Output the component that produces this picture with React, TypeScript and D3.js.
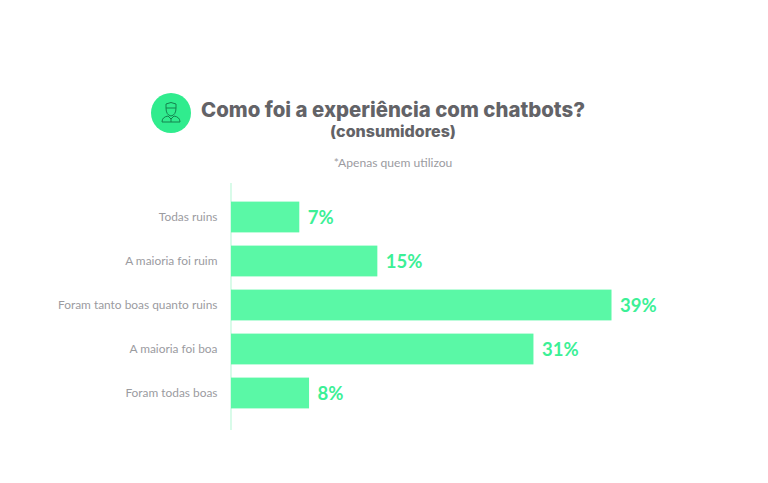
import { useEffect, useRef } from 'react';
import * as d3 from 'd3';

const categories = ['Todas ruins', 'A maioria foi ruim', 'Foram tanto boas quanto ruins', 'A maioria foi boa', 'Foram todas boas'];
const values = [7, 15, 39, 31, 8];

const width = 768;
const height = 483;

const App = () => {
  const svgRef = useRef<SVGSVGElement>(null);

  useEffect(() => {
    if (!svgRef.current) return;
    d3.select(svgRef.current).selectAll('*').remove();
    const svg = d3.select(svgRef.current);

    const xScale = d3.scaleLinear().domain([0, 39]).range([231, 611.5]);
    const yScale = d3.scaleBand().domain(categories).range([195, 415]).paddingInner(0.3).paddingOuter(0.15);

    svg.append('line')
      .attr('x1', 231).attr('x2', 231)
      .attr('y1', 183).attr('y2', 430)
      .attr('stroke', '#bff8da')
      .attr('stroke-width', 1.2);

    svg.selectAll('.bar')
      .data(values)
      .enter()
      .append('rect')
      .attr('x', xScale(0))
      .attr('y', (_, i) => yScale(categories[i]) as number)
      .attr('width', d => xScale(d) - xScale(0))
      .attr('height', yScale.bandwidth())
      .attr('fill', '#5af8a6');

    svg.selectAll('.label')
      .data(categories)
      .enter()
      .append('text')
      .attr('x', 217.5)
      .attr('y', d => (yScale(d) as number) + yScale.bandwidth() / 2 + 4)
      .attr('text-anchor', 'end')
      .style('font-family', 'Lato, sans-serif')
      .style('font-size', '11.9px')
      .style('fill', '#9b9b9f')
      .text(d => d);

    svg.selectAll('.value')
      .data(values)
      .enter()
      .append('text')
      .attr('x', d => xScale(d) + 8.5)
      .attr('y', (_, i) => (yScale(categories[i]) as number) + yScale.bandwidth() / 2 + 6.5)
      .style('font-family', 'Lato, sans-serif')
      .style('font-size', '18.5px')
      .style('font-weight', 'bold')
      .style('fill', '#3cf096')
      .text(d => `${d}%`);

    // titulo
    svg.append('text')
      .attr('x', 201).attr('y', 116.5)
      .attr('textLength', 384)
      .attr('lengthAdjust', 'spacingAndGlyphs')
      .style('font-family', 'Inter, sans-serif')
      .style('font-size', '20.5px')
      .style('font-weight', 800)
      .style('fill', '#636367')
      .text('Como foi a experiência com chatbots?');

    svg.append('text')
      .attr('x', 393).attr('y', 137)
      .attr('text-anchor', 'middle')
      .attr('textLength', 126)
      .attr('lengthAdjust', 'spacingAndGlyphs')
      .style('font-family', 'Inter, sans-serif')
      .style('font-size', '15.5px')
      .style('font-weight', 800)
      .style('fill', '#636367')
      .text('(consumidores)');

    svg.append('text')
      .attr('x', 393).attr('y', 167)
      .attr('text-anchor', 'middle')
      .style('font-family', 'Lato, sans-serif')
      .style('font-size', '12.1px')
      .style('fill', '#9b9b9f')
      .text('*Apenas quem utilizou');

    // icone
    const icon = svg.append('g').attr('transform', 'translate(171,113)');
    icon.append('circle').attr('r', 20).attr('fill', '#30ec8e');
    const person = icon.append('g')
      .attr('fill', 'none')
      .attr('stroke', '#14824e')
      .attr('stroke-width', 1);
    person.append('path').attr('d', 'M-5,-9 Q0,-12 5,-9 L5,-5 L-5,-5 Z');
    person.append('path').attr('d', 'M-5,-5 Q-5,2 0,3 Q5,2 5,-5');
    person.append('path').attr('d', 'M-9,9 Q-9,4 -3,3 L0,6 L3,3 Q9,4 9,9 Z');
    person.append('path').attr('d', 'M0,6 L0,9');
  }, []);

  return <svg ref={svgRef} width={width} height={height} style={{ position: 'absolute', left: 0, top: 0, background: '#fff' }}></svg>;
};

export default App;
